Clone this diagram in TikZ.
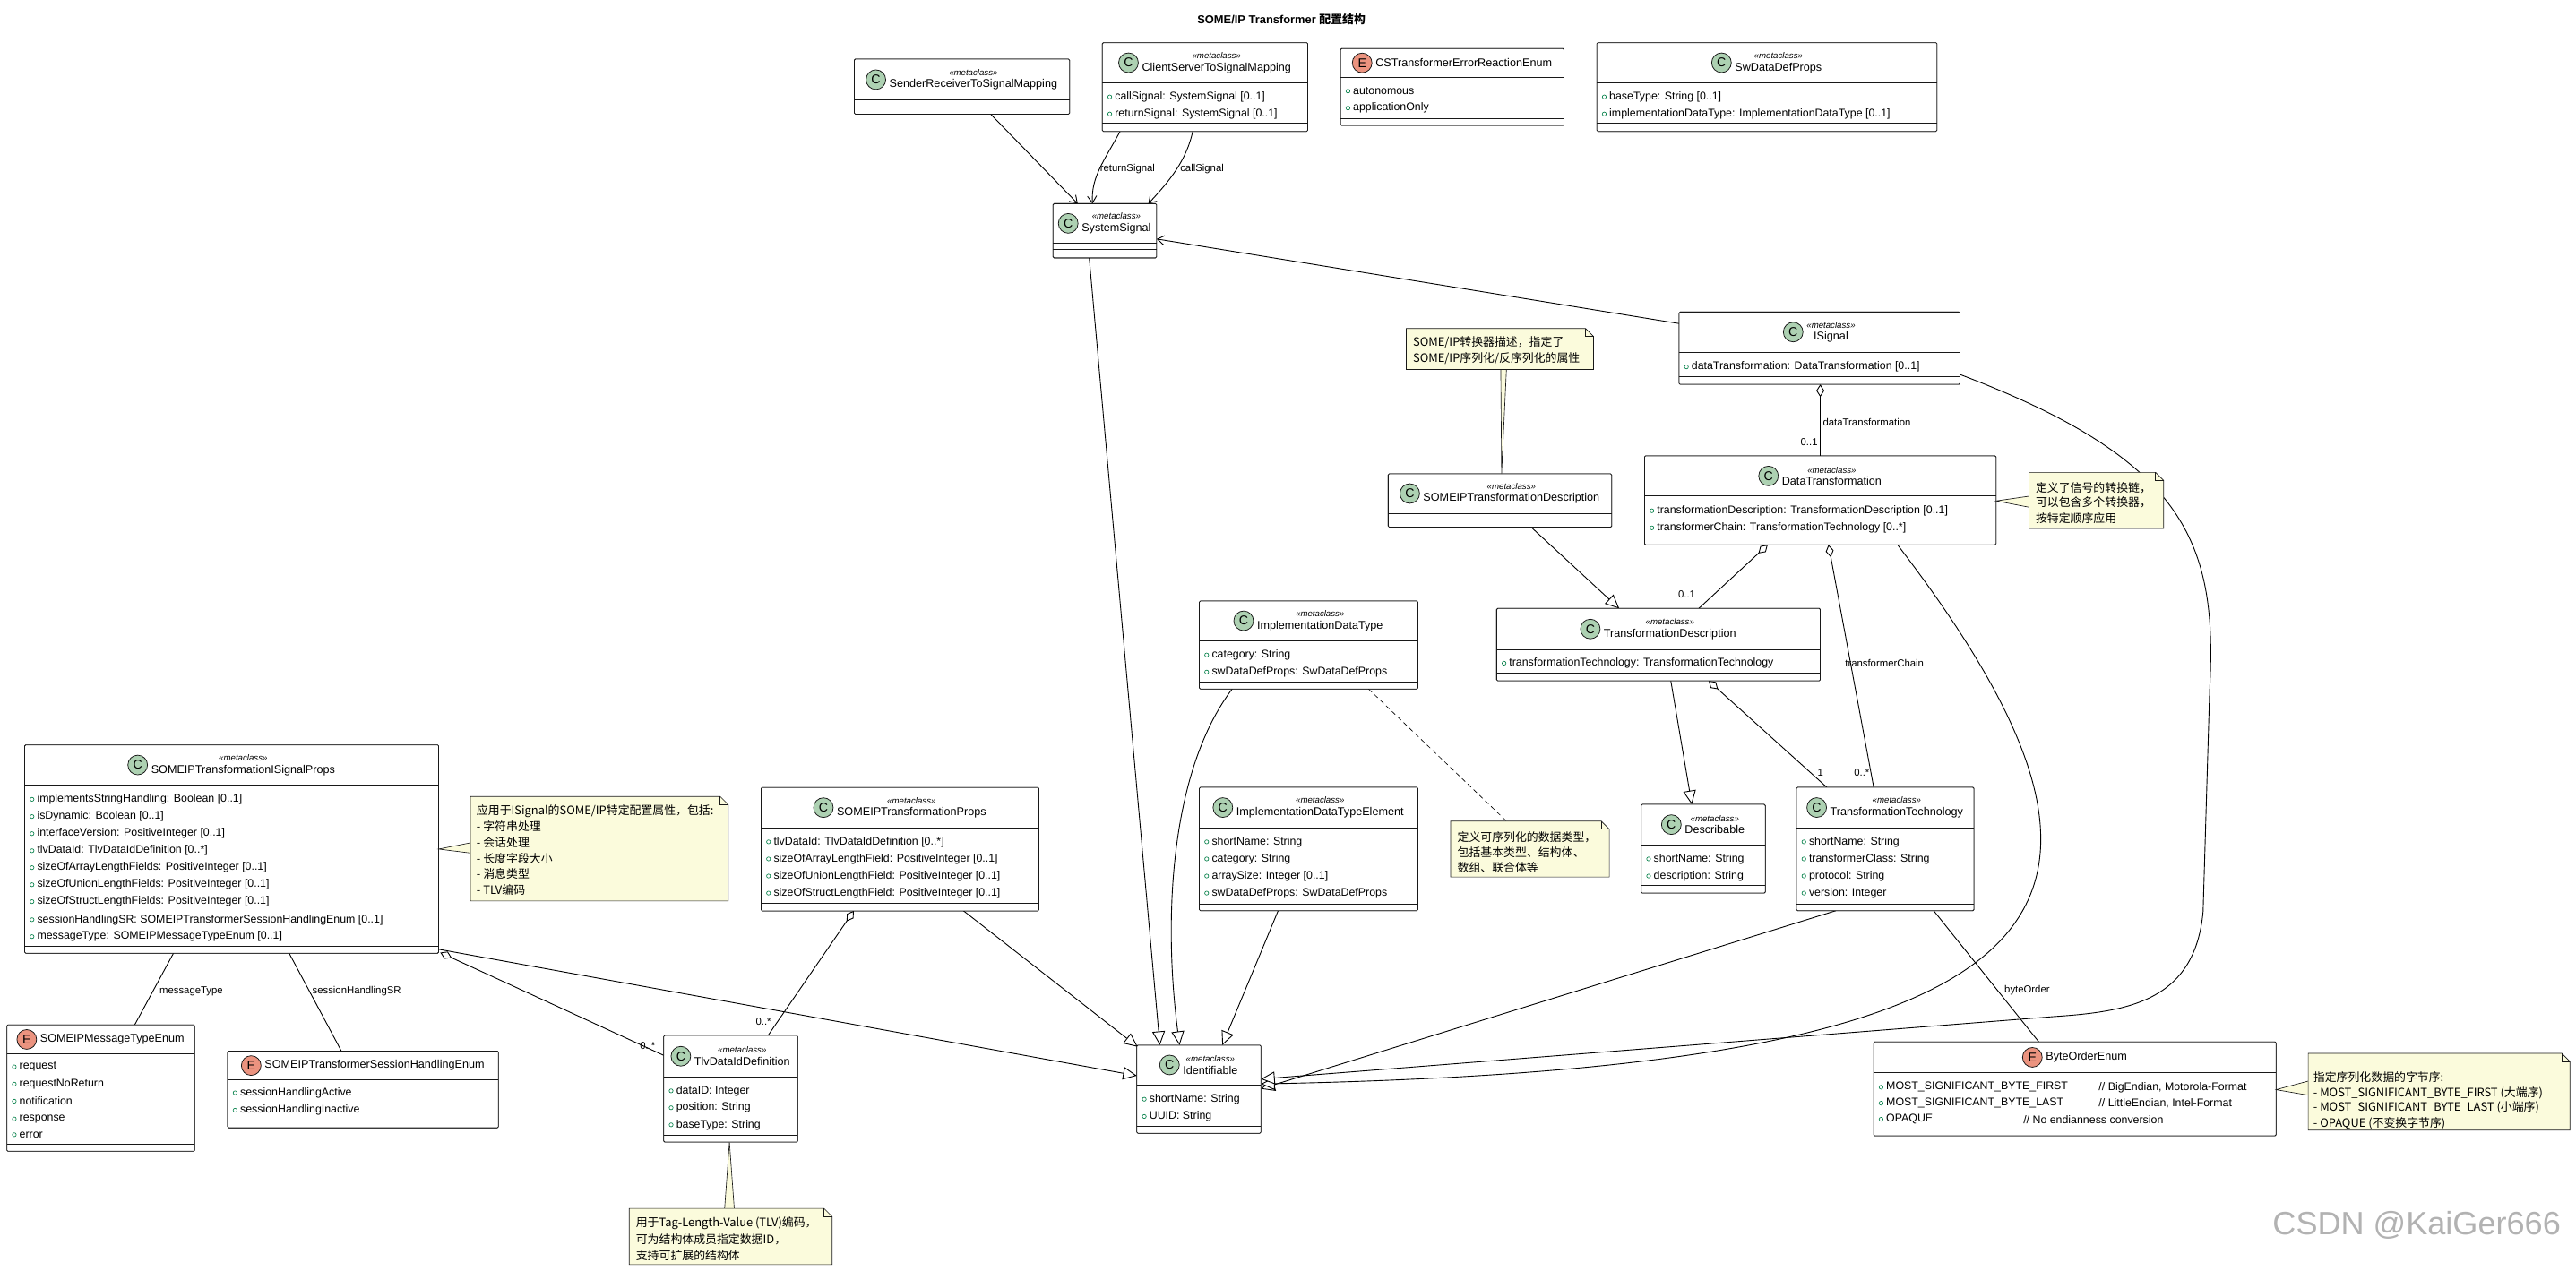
\documentclass[tikz,border=0pt]{standalone}
\usepackage{fontspec}
\setmainfont{Liberation Sans}
\newfontfamily\cjk{Noto Sans CJK SC}
\usetikzlibrary{arrows.meta,calc}
\definecolor{bdr}{HTML}{181818}
\definecolor{cicon}{HTML}{ADD1B2}
\definecolor{eicon}{HTML}{EB937F}
\definecolor{notefill}{HTML}{FBFBDC}
\definecolor{bulc}{HTML}{038048}
\newdimen\un \un=0.5mm
\newcount\ac
\newcommand\nmf{\fontsize{9.8}{11.5}\selectfont}
\newcommand\stf{\fontsize{7.5}{9}\selectfont\itshape}
\newcommand\atf{\fontsize{9.6}{11}\selectfont}
\newcommand\lbf{\fontsize{8.8}{10}\selectfont}
\newcommand\ntf{\cjk\fontsize{10}{12}\selectfont}
\tikzset{
  box/.style={draw=bdr,fill=white,line width=0.6pt,inner sep=0pt,outer sep=0pt,rounded corners=1pt},
  dline/.style={draw=bdr,line width=0.6pt},
  hdt/.style={inner sep=0pt,align=center,font=\nmf},
  icon/.style={circle,draw=bdr,line width=0.6pt,minimum size=17pt,inner sep=0pt,font=\fontsize{11}{12}\selectfont},
  bul/.style={draw=bulc,line width=0.5pt},
  att/.style={anchor=west,inner sep=0pt,font=\atf},
  lbl/.style={inner sep=0pt,font=\lbf},
  nst/.style={draw=bdr,fill=notefill,line width=0.5pt},
  ntx/.style={anchor=west,inner sep=0pt,font=\ntf},
  conn/.style={draw=black,line width=0.7pt},
  assoc/.style={conn,-{Straight Barb[length=6pt,width=8pt]}},
  gen/.style={conn,-{Triangle[open,length=12pt,width=11pt,fill=white]}},
  agg/.style={conn,{Diamond[open,length=11pt,width=7pt,fill=white]}-},
}
\newcommand\cbox[5]{\node[box,anchor=north west,minimum width={(#4-#2)*\un},minimum height={(#5-#3)*\un}] (#1) at (#2,#3) {};}
\newcommand\dvd[3]{\draw[dline] (#1,#3) -- (#2,#3);}
\newcommand\hd[6]{\node[hdt] (#1) at (#2+7,#3) {#6}; \node[icon,fill=#5] (#1i) at ([xshift=-11.5pt]#1.west) {#4};}
\newcommand\mh[1]{{\stf «metaclass»}\\[-1pt]{\nmf #1}}
\newcommand\at[3]{\global\advance\ac by 1\relax \draw[bul] (#1+4.5,#2) circle[radius=1.7pt]; \node[att] (a\the\ac) at (#1+7.5,#2) {#3};}
\newcommand\nt[5]{\node[inner sep=0pt,outer sep=0pt,anchor=north west,minimum width={(#4-#2)*\un},minimum height={(#5-#3)*\un}] (#1) at (#2,#3) {};
 \filldraw[nst] (#1.north west) -- ([xshift=-7pt]#1.north east) -- ([yshift=-7pt]#1.north east) -- (#1.south east) -- (#1.south west) -- cycle;
 \draw[nst,fill=none] ([xshift=-7pt]#1.north east) |- ([yshift=-7pt]#1.north east);}
\newcommand\tx[3]{\global\advance\ac by 1\relax \node[ntx] (t\the\ac) at (#1,#2) {#3};}
\begin{document}
\begin{tikzpicture}[x=0.5mm,y=-0.5mm]
\useasboundingbox[fill=white] (0,0) rectangle (1568,773.4);
\node[inner sep=0pt] (title) at (780,12) {\fontsize{10}{12}\selectfont\bfseries SOME/IP Transformer {\cjk\bfseries 配置结构}};

% ---------- boxes (define nodes) ----------
\cbox{sr}{520}{36}{651}{69.5}
\cbox{cs}{671}{26}{796}{80}
\cbox{cse}{816}{29.6}{952}{76.4}
\cbox{sw}{972}{26}{1179}{80}
\cbox{ss}{641}{124}{704}{157}
\cbox{isig}{1022}{190}{1193}{234}
\cbox{sotd}{845}{288.5}{981}{321}
\cbox{dt}{1001}{277.6}{1215}{331.7}
\cbox{idt}{730}{366}{863}{419.5}
\cbox{td}{911}{370.5}{1108}{414.5}
\cbox{idte}{730}{479.4}{863}{554.5}
\cbox{desc}{999}{489.8}{1074.5}{543.8}
\cbox{tt}{1093.5}{479.4}{1201.5}{554.5}
\cbox{isp}{15}{453.6}{267}{580.4}
\cbox{tp}{463.3}{479.5}{632.4}{554.6}
\cbox{mte}{4.2}{624}{118.5}{701}
\cbox{she}{138.6}{640}{303.4}{686.7}
\cbox{tdid}{404}{630.5}{485.5}{695.4}
\cbox{idf}{692}{636.4}{767.5}{690}
\cbox{boe}{1140.5}{634.4}{1385.4}{691.6}

% ---------- connectors ----------
\draw[assoc] ([shift={(83,33.5)}]sr.north west) -- ([shift={(15,0)}]ss.north west);
\draw[assoc] ([shift={(10.8,54)}]cs.north west) .. controls (672,98) and (664,108) .. ([shift={(24,0)}]ss.north west);
\draw[assoc] ([shift={(55,54)}]cs.north west) .. controls (722,98) and (712,110) .. ([shift={(58,0)}]ss.north west);
\node[lbl,anchor=west] (lrs) at (669.5,103) {returnSignal};
\node[lbl,anchor=west] (lcs) at (718.3,103) {callSignal};
\draw[assoc] ([shift={(0,7)}]isig.north west) -- ([shift={(63,21.5)}]ss.north west);
\draw[gen] ([shift={(22,33)}]ss.north west) -- ([shift={(14,0)}]idf.north west);
\draw[gen] ([shift={(20,53.5)}]idt.north west) .. controls (712,470) and (708,560) .. ([shift={(26,0)}]idf.north west);
\draw[gen] ([shift={(48,75.1)}]idte.north west) -- ([shift={(52,0)}]idf.north west);
\draw[gen] ([shift={(123.2,75.1)}]tp.north west) -- ([shift={(0.5,1)}]idf.north west);
\draw[gen] ([shift={(252,124.4)}]isp.north west) -- ([shift={(0,18.6)}]idf.north west);
\draw[agg] ([shift={(253,126.4)}]isp.north west) -- ([shift={(0,12.1)}]tdid.north west);
\node[lbl,anchor=east] (lm1) at (399,637) {0..*};
\draw[agg] ([shift={(56.4,75.1)}]tp.north west) -- ([shift={(63.5,0)}]tdid.north west);
\node[lbl,anchor=east] (lm2) at (469.5,622) {0..*};
\draw[conn] ([shift={(90.6,126.8)}]isp.north west) -- ([shift={(77.8,0)}]mte.north west);
\node[lbl,anchor=west] (lmt) at (97,603.5) {messageType};
\draw[conn] ([shift={(161,126.8)}]isp.north west) -- ([shift={(69.2,0)}]she.north west);
\node[lbl,anchor=west] (lsh) at (190,603.5) {sessionHandlingSR};
\draw[agg] ([shift={(86,44)}]isig.north west) -- ([shift={(107,0)}]dt.north west);
\node[lbl,anchor=west] (ldt) at (1109.5,257) {dataTransformation};
\node[lbl,anchor=east] (lm3) at (1106.5,269) {0..1};
\draw[gen] ([shift={(87,32.5)}]sotd.north west) -- ([shift={(74.6,0)}]td.north west);
\draw[agg] ([shift={(75,54.1)}]dt.north west) -- ([shift={(123,0)}]td.north west);
\node[lbl,anchor=east] (lm4) at (1032,362) {0..1};
\draw[agg] ([shift={(112,54.1)}]dt.north west) -- ([shift={(47,0)}]tt.north west);
\node[lbl,anchor=west] (ltc) at (1123,403.6) {transformerChain};
\node[lbl,anchor=east] (lm5) at (1138,470.6) {0..*};
\draw[gen] ([shift={(106,44)}]td.north west) -- ([shift={(30.8,0)}]desc.north west);
\draw[agg] ([shift={(129,44)}]td.north west) -- ([shift={(18.5,0)}]tt.north west);
\node[lbl,anchor=east] (lm6) at (1110,470.6) {1};
\draw[conn] ([shift={(83.5,75.1)}]tt.north west) -- ([shift={(100.5,0)}]boe.north west);
\node[lbl,anchor=west] (lbo) at (1220,603) {byteOrder};
\draw[gen] ([shift={(24,75.1)}]tt.north west) -- ([shift={(75.5,26.6)}]idf.north west);
\draw[gen] ([shift={(154,54.1)}]dt.north west) .. controls (1330,560) and (1260,650) .. ([shift={(75.5,23.6)}]idf.north west);
\draw[gen] ([shift={(171,38)}]isig.north west) .. controls (1330,280) and (1350,330) .. (1345,420) -- (1341,555) .. controls (1336,610) and (1295,616) .. (1250,619) -- ([shift={(75.5,20.6)}]idf.north west);
\draw[conn,dashed,dash pattern=on 4pt off 3pt,line width=0.5pt] ([shift={(103,53.5)}]idt.north west) -- (917,500);

% ---------- redraw boxes on top ----------
\cbox{sr}{520}{36}{651}{69.5}
\cbox{cs}{671}{26}{796}{80}
\cbox{cse}{816}{29.6}{952}{76.4}
\cbox{sw}{972}{26}{1179}{80}
\cbox{ss}{641}{124}{704}{157}
\cbox{isig}{1022}{190}{1193}{234}
\cbox{sotd}{845}{288.5}{981}{321}
\cbox{dt}{1001}{277.6}{1215}{331.7}
\cbox{idt}{730}{366}{863}{419.5}
\cbox{td}{911}{370.5}{1108}{414.5}
\cbox{idte}{730}{479.4}{863}{554.5}
\cbox{desc}{999}{489.8}{1074.5}{543.8}
\cbox{tt}{1093.5}{479.4}{1201.5}{554.5}
\cbox{isp}{15}{453.6}{267}{580.4}
\cbox{tp}{463.3}{479.5}{632.4}{554.6}
\cbox{mte}{4.2}{624}{118.5}{701}
\cbox{she}{138.6}{640}{303.4}{686.7}
\cbox{tdid}{404}{630.5}{485.5}{695.4}
\cbox{idf}{692}{636.4}{767.5}{690}
\cbox{boe}{1140.5}{634.4}{1385.4}{691.6}

% dividers
\dvd{520}{651}{61}\dvd{520}{651}{65}
\dvd{671}{796}{50.4}\dvd{671}{796}{75}
\dvd{816}{952}{47}\dvd{816}{952}{72.4}
\dvd{972}{1179}{50.4}\dvd{972}{1179}{75}
\dvd{641}{704}{148}\dvd{641}{704}{152}
\dvd{1022}{1193}{214.5}\dvd{1022}{1193}{229}
\dvd{845}{981}{312.5}\dvd{845}{981}{316.7}
\dvd{1001}{1215}{302}\dvd{1001}{1215}{327}
\dvd{730}{863}{390}\dvd{730}{863}{415}
\dvd{911}{1108}{395.6}\dvd{911}{1108}{410}
\dvd{730}{863}{504}\dvd{730}{863}{550.3}
\dvd{999}{1074.5}{514.4}\dvd{999}{1074.5}{539.3}
\dvd{1093.5}{1201.5}{504}\dvd{1093.5}{1201.5}{550.3}
\dvd{15}{267}{478}\dvd{15}{267}{576}
\dvd{463.3}{632.4}{504}\dvd{463.3}{632.4}{550}
\dvd{4.2}{118.5}{641.8}\dvd{4.2}{118.5}{696.5}
\dvd{138.6}{303.4}{657.6}\dvd{138.6}{303.4}{682.5}
\dvd{404}{485.5}{655.8}\dvd{404}{485.5}{691}
\dvd{692}{767.5}{660.5}\dvd{692}{767.5}{685.8}
\dvd{1140.5}{1385.4}{653.2}\dvd{1140.5}{1385.4}{687.4}

% headers
\hd{hsr}{585.5}{48.5}{C}{cicon}{\mh{SenderReceiverToSignalMapping}}
\hd{hcs}{733.5}{38.2}{C}{cicon}{\mh{ClientServerToSignalMapping}}
\hd{hcse}{884}{38.3}{E}{eicon}{CSTransformerErrorReactionEnum}
\hd{hsw}{1075.5}{38.2}{C}{cicon}{\mh{SwDataDefProps}}
\hd{hss}{672.5}{136}{C}{cicon}{\mh{SystemSignal}}
\hd{hisig}{1107.5}{202.2}{C}{cicon}{\mh{ISignal}}
\hd{hsotd}{913}{300.5}{C}{cicon}{\mh{SOMEIPTransformationDescription}}
\hd{hdt}{1108}{289.8}{C}{cicon}{\mh{DataTransformation}}
\hd{hidt}{796.5}{378}{C}{cicon}{\mh{ImplementationDataType}}
\hd{htd}{1009.5}{383}{C}{cicon}{\mh{TransformationDescription}}
\hd{hidte}{796.5}{491.7}{C}{cicon}{\mh{ImplementationDataTypeElement}}
\hd{hdesc}{1036.75}{502.1}{C}{cicon}{\mh{Describable}}
\hd{htt}{1147.5}{491.7}{C}{cicon}{\mh{TransformationTechnology}}
\hd{hisp}{141}{465.8}{C}{cicon}{\mh{SOMEIPTransformationISignalProps}}
\hd{htp}{547.85}{491.75}{C}{cicon}{\mh{SOMEIPTransformationProps}}
\hd{hmte}{61.35}{632.9}{E}{eicon}{SOMEIPMessageTypeEnum}
\hd{hshe}{221}{648.8}{E}{eicon}{SOMEIPTransformerSessionHandlingEnum}
\hd{htdid}{444.75}{643.15}{C}{cicon}{\mh{TlvDataIdDefinition}}
\hd{hidf}{729.75}{648.45}{C}{cicon}{\mh{Identifiable}}
\hd{hboe}{1263}{643.8}{E}{eicon}{ByteOrderEnum}

% attributes
\at{671}{59}{callSignal: SystemSignal [0..1]}
\at{671}{69.4}{returnSignal: SystemSignal [0..1]}
\at{816}{55.5}{autonomous}
\at{816}{65.8}{applicationOnly}
\at{972}{59}{baseType: String [0..1]}
\at{972}{69.4}{implementationDataType: ImplementationDataType [0..1]}
\at{1022}{223.4}{dataTransformation: DataTransformation [0..1]}
\at{1001}{311}{transformationDescription: TransformationDescription [0..1]}
\at{1001}{321.4}{transformerChain: TransformationTechnology [0..*]}
\at{730}{398.8}{category: String}
\at{730}{409.2}{swDataDefProps: SwDataDefProps}
\at{911}{403.8}{transformationTechnology: TransformationTechnology}
\at{730}{512.6}{shortName: String}
\at{730}{523}{category: String}
\at{730}{533.4}{arraySize: Integer [0..1]}
\at{730}{543.8}{swDataDefProps: SwDataDefProps}
\at{999}{523}{shortName: String}
\at{999}{533.4}{description: String}
\at{1093.5}{512.6}{shortName: String}
\at{1093.5}{523}{transformerClass: String}
\at{1093.5}{533.4}{protocol: String}
\at{1093.5}{543.8}{version: Integer}
\at{15}{486.7}{implementsStringHandling: Boolean [0..1]}
\at{15}{497.2}{isDynamic: Boolean [0..1]}
\at{15}{507.6}{interfaceVersion: PositiveInteger [0..1]}
\at{15}{518}{tlvDataId: TlvDataIdDefinition [0..*]}
\at{15}{528.3}{sizeOfArrayLengthFields: PositiveInteger [0..1]}
\at{15}{538.7}{sizeOfUnionLengthFields: PositiveInteger [0..1]}
\at{15}{549}{sizeOfStructLengthFields: PositiveInteger [0..1]}
\at{15}{560}{sessionHandlingSR: SOMEIPTransformerSessionHandlingEnum [0..1]}
\at{15}{570.3}{messageType: SOMEIPMessageTypeEnum [0..1]}
\at{463.3}{512.6}{tlvDataId: TlvDataIdDefinition [0..*]}
\at{463.3}{523}{sizeOfArrayLengthField: PositiveInteger [0..1]}
\at{463.3}{533.4}{sizeOfUnionLengthField: PositiveInteger [0..1]}
\at{463.3}{543.8}{sizeOfStructLengthField: PositiveInteger [0..1]}
\at{4.2}{649.6}{request}
\at{4.2}{660.1}{requestNoReturn}
\at{4.2}{670.5}{notification}
\at{4.2}{681.3}{response}
\at{4.2}{690.9}{error}
\at{138.6}{665.4}{sessionHandlingActive}
\at{138.6}{676}{sessionHandlingInactive}
\at{404}{664.2}{dataID: Integer}
\at{404}{674.5}{position: String}
\at{404}{684.9}{baseType: String}
\at{692}{669.3}{shortName: String}
\at{692}{679.8}{UUID: String}
\at{1140.5}{662}{MOST\_SIGNIFICANT\_BYTE\_FIRST}
\at{1140.5}{671.7}{MOST\_SIGNIFICANT\_BYTE\_LAST}
\at{1140.5}{681.5}{OPAQUE}
\node[att] (c1) at (1277.4,662) {// BigEndian, Motorola-Format};
\node[att] (c2) at (1277.4,671.7) {// LittleEndian, Intel-Format};
\node[att] (c3) at (1231.5,681.5) {// No endianness conversion};

% ---------- notes ----------
\filldraw[nst] ([shift={(57.5,24)}]856,200) -- ([shift={(69,0)}]sotd.north west) -- ([shift={(61,24)}]856,200) -- cycle;
\nt{n1}{856}{200}{970}{225}
\tx{860}{208.7}{SOME/IP转换器描述，指定了}
\tx{860}{218.2}{SOME/IP序列化/反序列化的属性}

\filldraw[nst] ([shift={(214,27.4)}]dt.north west) -- (1236,302) -- (1236,309) -- cycle;
\nt{n2}{1235}{287.6}{1317}{321.8}
\tx{1239}{297}{定义了信号的转换链，}
\tx{1239}{306}{可以包含多个转换器，}
\tx{1239}{315.5}{按特定顺序应用}

\nt{n3}{883}{500}{979.6}{534}
\tx{887}{509.6}{定义可序列化的数据类型，}
\tx{887}{519}{包括基本类型、结构体、}
\tx{887}{528.3}{数组、联合体等}

\filldraw[nst] ([shift={(252,63.4)}]isp.north west) -- (287.3,513) -- (287.3,519.5) -- cycle;
\nt{n4}{286.3}{485}{443.3}{548.6}
\tx{290}{494}{应用于ISignal的SOME/IP特定配置属性，包括:}
\tx{290}{503.2}{- 字符串处理}
\tx{290}{513}{- 会话处理}
\tx{290}{522.6}{- 长度字段大小}
\tx{290}{532.2}{- 消息类型}
\tx{290}{541.7}{- TLV编码}

\filldraw[nst] ([shift={(40,64.9)}]tdid.north west) -- (441,736.8) -- (447,736.8) -- cycle;
\nt{n5}{383}{735.8}{506.5}{770}
\tx{387}{744.7}{用于Tag-Length-Value (TLV)编码，}
\tx{387}{754.5}{可为结构体成员指定数据ID，}
\tx{387}{764.2}{支持可扩展的结构体}

\filldraw[nst] ([shift={(244.9,29.1)}]boe.north west) -- (1406,658) -- (1406,667) -- cycle;
\nt{n6}{1405}{641.4}{1564.3}{688.1}
\tx{1408}{655.8}{指定序列化数据的字节序:}
\tx{1408}{665.3}{- MOST\_SIGNIFICANT\_BYTE\_FIRST (大端序)}
\tx{1408}{674.5}{- MOST\_SIGNIFICANT\_BYTE\_LAST (小端序)}
\tx{1408}{683.8}{- OPAQUE (不变换字节序)}

\node[inner sep=0pt,text=black!30,font=\fontsize{28}{30}\selectfont] (wm) at (1471,746) {CSDN @KaiGer666};
\end{tikzpicture}
\end{document}
